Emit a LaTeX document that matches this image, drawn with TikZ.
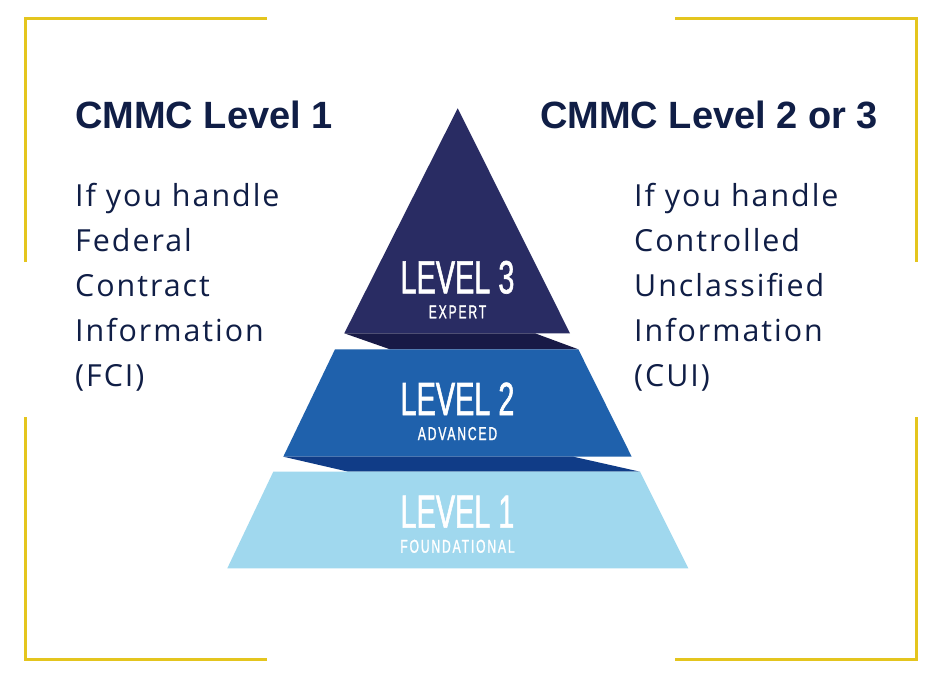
\documentclass[tikz,border=0pt]{standalone}
\usepackage{fontspec}
\setmainfont{Open Sans}
\newfontfamily\headfont{Liberation Sans}
\newfontfamily\bodyfont[LetterSpace=6.5]{Open Sans}
\newfontfamily\levelfont[FakeStretch=0.62,FakeBold=1.2]{Liberation Sans}
\newfontfamily\tierfont[FakeStretch=0.65,LetterSpace=10,FakeBold=1.2]{Liberation Sans}
\usepackage{tikz}

\definecolor{navy}{RGB}{16,30,70}
\definecolor{frame}{RGB}{228,197,30}
\definecolor{lvthree}{RGB}{41,44,99}
\definecolor{shthree}{RGB}{24,26,70}
\definecolor{lvtwo}{RGB}{31,97,172}
\definecolor{shtwo}{RGB}{16,60,135}
\definecolor{lvone}{RGB}{160,216,238}

\begin{document}
\begin{tikzpicture}[x=1pt, y=-1pt,
  head/.style={anchor=base west, inner sep=0pt, text=navy,
    font=\headfont\bfseries\fontsize{38}{40}\selectfont},
  body/.style={anchor=base west, inner sep=0pt, text=navy,
    font=\bodyfont\fontsize{30.4}{36}\selectfont},
  big/.style={anchor=base, inner sep=0pt, text=white,
    font=\levelfont\fontsize{46.5}{50}\selectfont},
  small/.style={anchor=base, inner sep=0pt, text=white,
    font=\tierfont\fontsize{18.6}{20}\selectfont},
  rim/.style={draw=frame, line width=3pt, line join=miter}]
\useasboundingbox[fill=white] (0,0) rectangle (945,687);

% yellow corner brackets
\draw[rim] (267,19) -- (25,19) -- (25,262);
\draw[rim] (675,19) -- (916,19) -- (916,262);
\draw[rim] (25,417) -- (25,659) -- (267,659);
\draw[rim] (916,417) -- (916,659) -- (675,659);

% pyramid tiers, top to bottom
\fill[lvthree] (457.7,108.3) -- (570,333.3) -- (344.3,333.3) -- cycle;
\fill[shthree] (344.3,333.3) -- (535,333.3) -- (578.3,349.3) -- (390,349.3) -- cycle;
\fill[lvtwo] (335,349.3) -- (578.3,349.3) -- (631.7,456.7) -- (283.3,456.7) -- cycle;
\fill[shtwo] (283.3,456.7) -- (573.3,456.7) -- (640,471.7) -- (348.3,471.7) -- cycle;
\fill[lvone] (273.3,471.7) -- (640,471.7) -- (688.3,568.3) -- (227.3,568.3) -- cycle;

\node[big]   (L3)  at (457.5,293.3) {LEVEL 3};
\node[small] (L3s) at (457.5,318.3) {EXPERT};
\node[big]   (L2)  at (457.5,415)   {LEVEL 2};
\node[small] (L2s) at (457.5,440)   {ADVANCED};
\node[big]   (L1)  at (457.5,527.7) {LEVEL 1};
\node[small] (L1s) at (457.5,552.7) {FOUNDATIONAL};

% the two columns of text
\node[head] (HL) at (75,129)  {CMMC Level 1};
\node[head] (HR) at (540,129) {CMMC Level 2 or 3};
\foreach \t [count=\i] in {If you handle, Federal, Contract, Information, {(FCI)}}
  \node[body] (fci\i) at (75,{206.7+45*(\i-1)}) {\t};
\foreach \t [count=\i] in {If you handle, Controlled, Unclassified, Information, {(CUI)}}
  \node[body] (cui\i) at (634,{206.7+45*(\i-1)}) {\t};
\end{tikzpicture}
\end{document}
